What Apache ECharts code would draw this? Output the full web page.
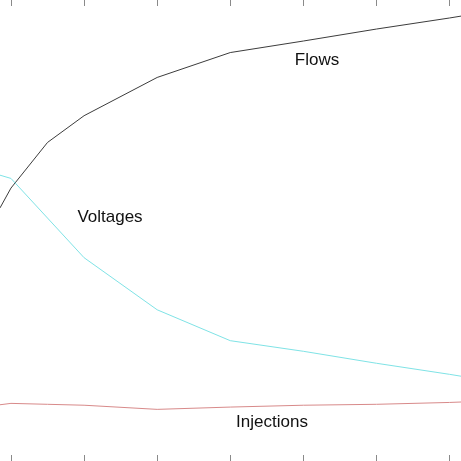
<!DOCTYPE html>
<html>
<head>
<meta charset="utf-8">
<script src="https://cdn.jsdelivr.net/npm/echarts@6/dist/echarts.min.js"></script>
<style>
  html, body { margin: 0; padding: 0; background: #fff; }
  #chart { width: 461px; height: 461px; }
</style>
</head>
<body>
<div id="chart"></div>
<script>
// x positions of the samples (tick units)
const steps = [-0.15, 0, 0.5, 1, 2, 3, 4, 5, 6, 6.5];
// normalised values
const flows = [0.549, 0.592, 0.691, 0.749, 0.832, 0.886, 0.911, 0.937, 0.961, 0.974];
const voltages = [0.620, 0.613, 0.527, 0.441, 0.328, 0.261, 0.238, 0.212, 0.188, 0.175];
const injections = [0.122, 0.125, 0.123, 0.121, 0.112, 0.117, 0.121, 0.123, 0.127, 0.130];
// tick marks along top and bottom
const ticks = [0, 1, 2, 3, 4, 5, 6];

const chart = echarts.init(document.getElementById("chart"));

const pairs = (vals) => steps.map((x, i) => [x, vals[i]]);

// the visible window is a crop of the plot box: x from -0.15 to 6.16
const tickAxis = (pos) => ({
  type: "value",
  position: pos,
  min: -0.15,
  max: 6.156,
  axisLine: { show: false },
  axisLabel: { show: false },
  splitLine: { show: false },
  axisTick: {
    show: true,
    inside: true,
    length: 6,
    customValues: ticks,
    lineStyle: { color: "#8a8a8a", width: 1 },
  },
});

const line = (name, vals, color) => ({
  name: name,
  type: "line",
  data: pairs(vals),
  symbol: "none",
  smooth: false,
  lineStyle: { color: color, width: 1 },
  silent: true,
});

const labelFont = '17px "Liberation Sans", Arial, sans-serif';

chart.setOption({
  animation: false,
  backgroundColor: "#ffffff",
  grid: { left: 0, right: 0, top: 0, bottom: 0 },
  xAxis: [tickAxis("bottom"), tickAxis("top")],
  yAxis: { type: "value", min: 0, max: 1, show: false },
  series: [
    line("Flows", flows, "#3c3c3c"),
    line("Voltages", voltages, "#7fe3e6"),
    line("Injections", injections, "#d88a8a"),
  ],
  graphic: [
    { type: "text", style: { text: "Flows", x: 317, y: 60, font: labelFont, fill: "#111", align: "center", verticalAlign: "middle" } },
    { type: "text", style: { text: "Voltages", x: 110, y: 217, font: labelFont, fill: "#111", align: "center", verticalAlign: "middle" } },
    { type: "text", style: { text: "Injections", x: 272, y: 422, font: labelFont, fill: "#111", align: "center", verticalAlign: "middle" } },
  ],
});
</script>
</body>
</html>
